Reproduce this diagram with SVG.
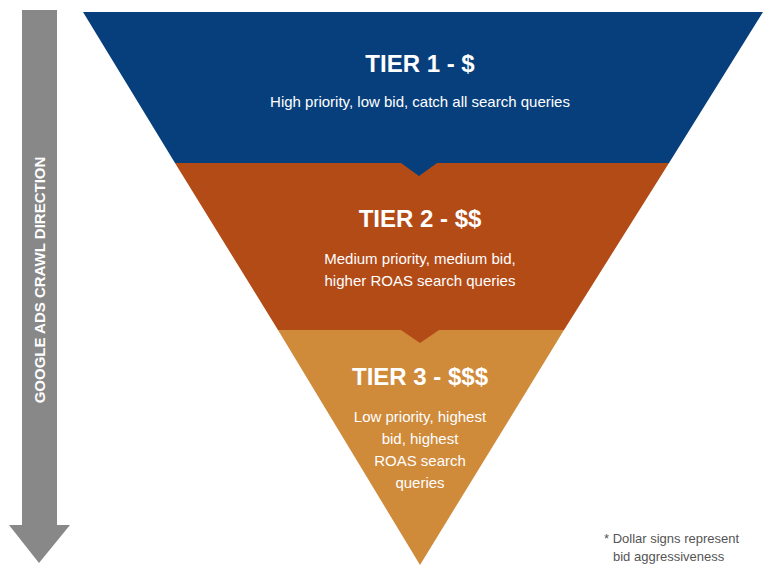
<svg xmlns="http://www.w3.org/2000/svg" width="780" height="581" viewBox="0 0 780 581">
<style>
.t{font-family:"Liberation Sans",Arial,sans-serif;fill:#fff;text-anchor:middle}
.h{font-size:24px;font-weight:bold}
.s{font-size:15px}
</style>
<rect width="780" height="581" fill="#fff"/>
<g id="arrow"><polygon points="22,10 57,10 57,525 70,525 39,563 9,525 22,525" fill="#888"/>
<text transform="translate(45,280) rotate(-90)" font-family="Liberation Sans,Arial,sans-serif" font-size="15" font-weight="bold" fill="#fff" text-anchor="middle">GOOGLE ADS CRAWL DIRECTION</text></g>
<g id="tier3"><polygon points="278,330 564,330 420,565" fill="#cf8a3a"/>
<text class="t h" x="420" y="385">TIER 3 - $$$</text>
<text class="t s" x="420" y="422">Low priority, highest</text>
<text class="t s" x="420" y="444">bid, highest</text>
<text class="t s" x="420" y="466">ROAS search</text>
<text class="t s" x="420" y="488">queries</text></g>
<g id="tier2"><polygon points="175,163 669,163 564,330 439,330 420,343 401,330 278,330" fill="#b34b17"/>
<text class="t h" x="420" y="227">TIER 2 - $$</text>
<text class="t s" x="420" y="264">Medium priority, medium bid,</text>
<text class="t s" x="420" y="286">higher ROAS search queries</text></g>
<g id="tier1"><polygon points="83,12 763,12 669,163 437,163 419,176 401,163 175,163" fill="#073f7c"/>
<text class="t h" x="420" y="72">TIER 1 - $</text>
<text class="t s" x="420" y="107">High priority, low bid, catch all search queries</text></g>
<g id="note"><text font-family="Liberation Sans,Arial,sans-serif" font-size="13" fill="#555"><tspan x="604" y="543">* Dollar signs represent</tspan><tspan x="613" y="561">bid aggressiveness</tspan></text></g>
<g id="connectors"/>
</svg>
